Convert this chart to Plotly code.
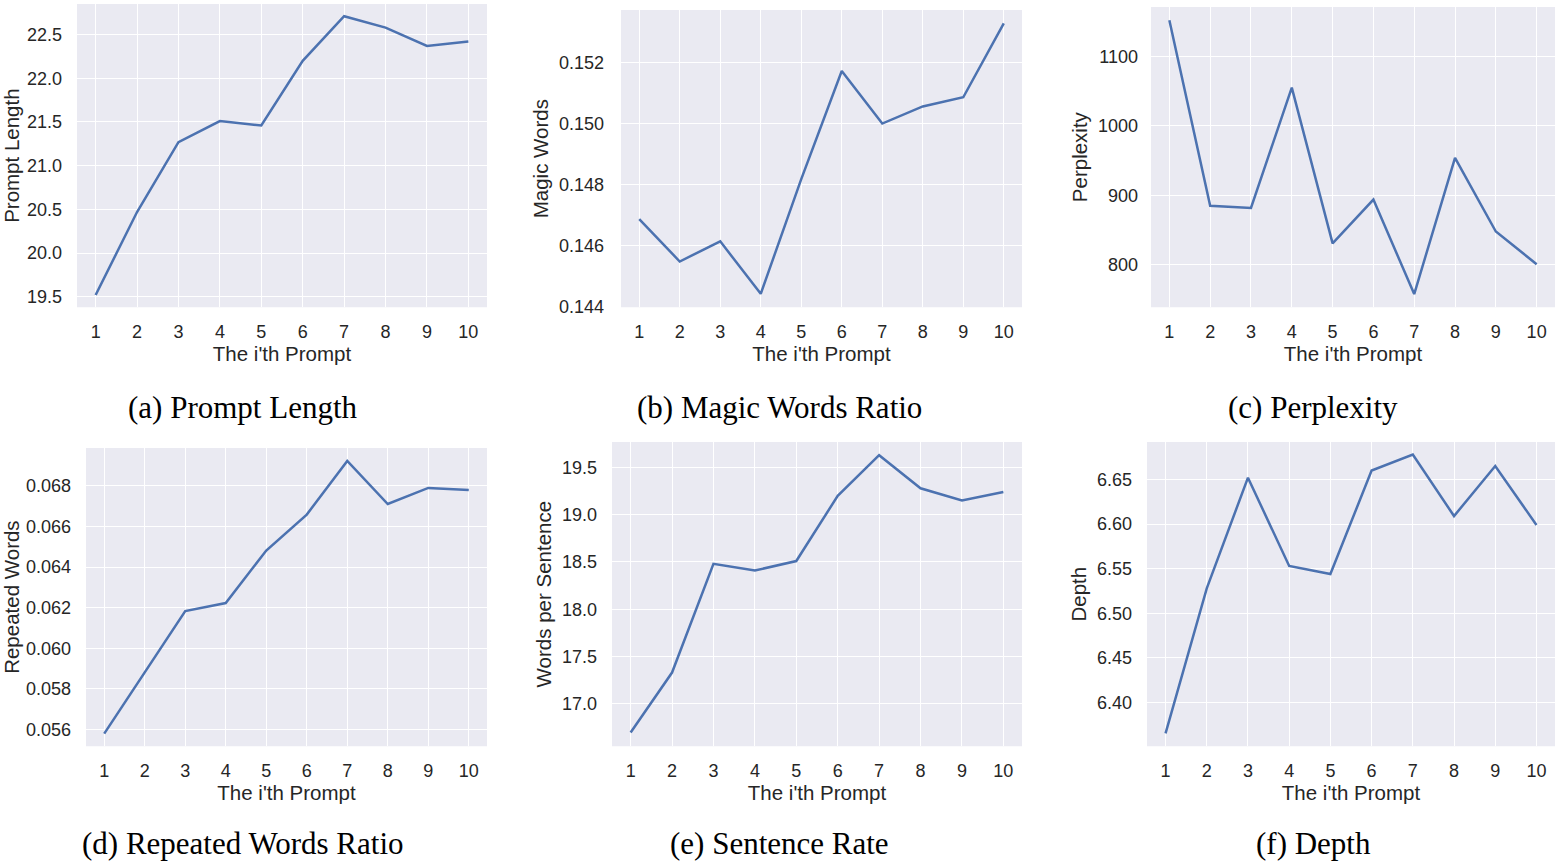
import plotly.graph_objects as go

W, H = 1563, 862   # reference size; panel boxes below are measured on it
FIG_H = 870        # the viewport is a little taller than 862 and is squeezed back

prompts = [1, 2, 3, 4, 5, 6, 7, 8, 9, 10]
prompt_length = [19.52, 20.47, 21.27, 21.51, 21.46, 22.20, 22.71, 22.58, 22.37, 22.42]
magic_words = [0.14687, 0.14548, 0.14614, 0.14442, 0.14818, 0.15172, 0.15000, 0.15056, 0.15086, 0.15328]
perplexity = [1152, 885, 882, 1055, 831, 894, 758, 954, 848, 801]
repeated_words = [0.05580, 0.05879, 0.06184, 0.06223, 0.06482, 0.06659, 0.06923, 0.06711, 0.06790, 0.06780]
words_per_sentence = [16.695, 17.33, 18.48, 18.41, 18.51, 19.20, 19.63, 19.28, 19.15, 19.24]
depth = [6.3655, 6.528, 6.652, 6.553, 6.544, 6.660, 6.678, 6.609, 6.665, 6.599]

y_titles = ["Prompt Length", "Magic Words", "Perplexity",
            "Repeated Words", "Words per Sentence", "Depth"]
captions = ["(a) Prompt Length", "(b) Magic Words Ratio", "(c) Perplexity",
            "(d) Repeated Words Ratio", "(e) Sentence Rate", "(f) Depth"]
series = [prompt_length, magic_words, perplexity, repeated_words, words_per_sentence, depth]

# panel boxes in pixels: left, right, top, bottom
boxes = [(77, 487, 4, 308), (621, 1022, 10, 308), (1151, 1555, 7, 308),
         (86, 487, 449, 748), (612, 1022, 443, 748), (1147, 1555, 443, 748)]
yranges = [[19.38, 22.85], [0.14398, 0.15372], [739, 1171],
           [0.05518, 0.06987], [16.55, 19.77], [6.351, 6.692]]
ytick = [(19.5, 0.5, ".1f"), (0.144, 0.002, ".3f"), (800, 100, "d"),
         (0.056, 0.002, ".3f"), (17.0, 0.5, ".1f"), (6.40, 0.05, ".2f")]
ypad = [14, 16, 12, 14, 14, 14]
ytitle_gap = [8, 4, 4, 9, 4, 4]
cap_x = [243, 779, 1313, 243, 779, 1313]
cap_y = [408, 408, 408, 845, 845, 845]

txt = "#262626"
fig = go.Figure()
layout = dict(width=W, height=FIG_H, margin=dict(l=0, r=0, t=0, b=0),
              paper_bgcolor="white", showlegend=False,
              font=dict(family="Liberation Sans, Arial", color=txt, size=18))

for i in range(6):
    n = "" if i == 0 else str(i + 1)
    l, r, t, b = boxes[i]
    fig.add_trace(go.Scatter(x=prompts, y=series[i], mode="lines",
                             line=dict(color="#4C72B0", width=2.5),
                             xaxis="x" + n, yaxis="y" + n))
    layout["xaxis" + n] = dict(
        domain=[l / W, r / W], anchor="y" + n, range=[0.55, 10.45],
        tickmode="array", tickvals=prompts, showgrid=True, gridcolor="white",
        gridwidth=1.4, zeroline=False, showline=False, ticks="",
        ticklabelstandoff=12, tickfont=dict(size=18),
        title=dict(text="The i'th Prompt", font=dict(size=20.5), standoff=2))
    t0, dt, fmt = ytick[i]
    layout["yaxis" + n] = dict(
        domain=[1 - b / H, 1 - t / H], anchor="x" + n, range=yranges[i],
        tick0=t0, dtick=dt, tickformat=fmt, showgrid=True, gridcolor="white",
        gridwidth=1.4, zeroline=False, showline=False, ticks="",
        ticklabelstandoff=ypad[i], tickfont=dict(size=18),
        title=dict(text=y_titles[i], font=dict(size=20.5), standoff=ytitle_gap[i]))
    layout.setdefault("shapes", []).append(dict(
        type="rect", xref="x" + n + " domain", yref="y" + n + " domain",
        x0=0, x1=1, y0=0, y1=1, fillcolor="#EAEAF2", line=dict(width=0),
        layer="below"))
    layout.setdefault("annotations", []).append(dict(
        text=captions[i], x=cap_x[i] / W, y=1 - cap_y[i] / H, xref="paper",
        yref="paper", showarrow=False, xanchor="center", yanchor="middle",
        font=dict(family="Liberation Serif, Times New Roman", size=31, color="black")))

fig.update_layout(**layout)
fig.update_layout(plot_bgcolor="rgba(0,0,0,0)")
# page body has a default margin; drop it so the figure sits at 0,0 and nothing scrolls
page_css = ("document.body.style.margin='0px';"
            "document.body.style.overflow='hidden';"
            "document.documentElement.style.overflow='hidden';")
fig.write_html("out.html", post_script=page_css, config={"displayModeBar": False})
